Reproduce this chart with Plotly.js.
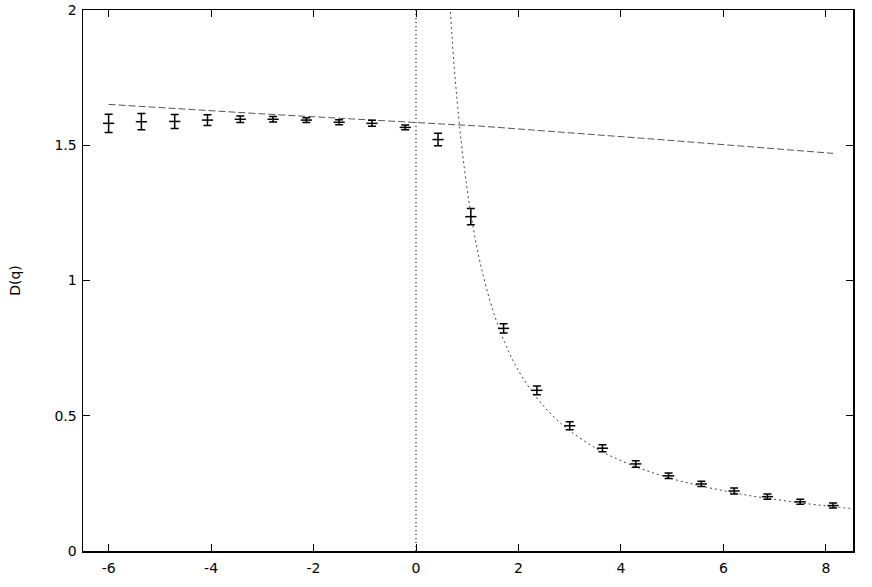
<!DOCTYPE html>
<html>
<head>
<meta charset="utf-8">
<script src="https://cdn.plot.ly/plotly-3.0.1.min.js"></script>
<style>html,body{margin:0;padding:0;background:#fff;}#chart{width:872px;height:587px;}</style>
</head>
<body>
<div id="chart"></div>
<script>
// Measured D(q) with error bars
const qData = [-6, -5.36, -4.71, -4.07, -3.43, -2.79, -2.14, -1.5, -0.86, -0.21, 0.43, 1.07, 1.71, 2.36, 3.0, 3.64, 4.29, 4.93, 5.57, 6.21, 6.86, 7.5, 8.14];
const dData = [1.581, 1.587, 1.588, 1.593, 1.596, 1.596, 1.593, 1.585, 1.581, 1.566, 1.521, 1.236, 0.823, 0.594, 0.463, 0.380, 0.322, 0.278, 0.248, 0.222, 0.201, 0.182, 0.168];
const dErr  = [0.034, 0.030, 0.026, 0.020, 0.012, 0.010, 0.009, 0.009, 0.011, 0.009, 0.023, 0.030, 0.017, 0.016, 0.015, 0.013, 0.012, 0.010, 0.010, 0.011, 0.010, 0.009, 0.009];

// Dashed reference line
const qLine = [-6, -3, 0, 1.24, 4.69, 8.14];
const dLine = [1.651, 1.616, 1.584, 1.571, 1.522, 1.470];

// Dotted fitted curve
const qCurve = [0.66, 0.7, 0.75, 0.8, 0.85, 0.9, 1.0, 1.1, 1.25, 1.5, 1.75, 2.0, 2.35, 2.7, 3.0, 3.5, 4.0, 4.5, 5.0, 5.5, 6.0, 6.5, 7.0, 7.5, 8.0, 8.5];
const dCurve = [2.03, 1.91, 1.78, 1.67, 1.573, 1.483, 1.335, 1.214, 1.068, 0.890, 0.763, 0.667, 0.568, 0.494, 0.445, 0.381, 0.334, 0.297, 0.267, 0.243, 0.223, 0.205, 0.191, 0.178, 0.167, 0.157];

// Vertical zero line
const qZero = [0, 0];
const dZero = [0, 2];

const xTicks = [-6, -4, -2, 0, 2, 4, 6, 8];
const xTickText = ['-6', '-4', '-2', '0', '2', '4', '6', '8'];
const yTicks = [0, 0.5, 1, 1.5, 2];
const yTickText = ['0', '0.5', '1', '1.5', '2'];

const traces = [
  {x: qZero, y: dZero, mode: 'lines', line: {color: '#000', width: 1.2, dash: '1px,3px'}, hoverinfo: 'skip'},
  {x: qLine, y: dLine, mode: 'lines', line: {color: '#555', width: 1, dash: '7px,3px'}},
  {x: qCurve, y: dCurve, mode: 'lines', line: {color: '#444', width: 1, dash: '2px,3px', shape: 'spline'}},
  {x: qData, y: dData, mode: 'markers',
   marker: {symbol: 'line-ew-open', size: 8, color: '#000', line: {color: '#000', width: 1.5}},
   error_y: {type: 'data', array: dErr, visible: true, color: '#000', thickness: 1.5, width: 4}}
];

const fnt = {family: 'DejaVu Sans, sans-serif', size: 14, color: '#000'};
const layout = {
  width: 872, height: 587,
  margin: {l: 83, r: 19, t: 10, b: 36},
  paper_bgcolor: '#fff', plot_bgcolor: '#fff',
  showlegend: false,
  font: fnt,
  xaxis: {
    range: [-6.5, 8.53], tickvals: xTicks, ticktext: xTickText,
    ticks: 'inside', ticklen: 7, tickwidth: 1, tickcolor: '#000',
    showline: true, linecolor: '#000', linewidth: 1.5, mirror: 'ticks',
    showgrid: false, zeroline: false, tickfont: fnt, ticklabelstandoff: 4
  },
  yaxis: {
    range: [0, 2], tickvals: yTicks, ticktext: yTickText,
    ticks: 'inside', ticklen: 7, tickwidth: 1, tickcolor: '#000',
    showline: true, linecolor: '#000', linewidth: 1.5, mirror: 'ticks',
    showgrid: false, zeroline: false, tickfont: fnt, ticklabelstandoff: 2,
    title: {text: 'D(q)', font: {family: 'DejaVu Sans, sans-serif', size: 14, color: '#000'}, standoff: 30}
  }
};

Plotly.newPlot('chart', traces, layout, {displayModeBar: false, staticPlot: true});
</script>
</body>
</html>
